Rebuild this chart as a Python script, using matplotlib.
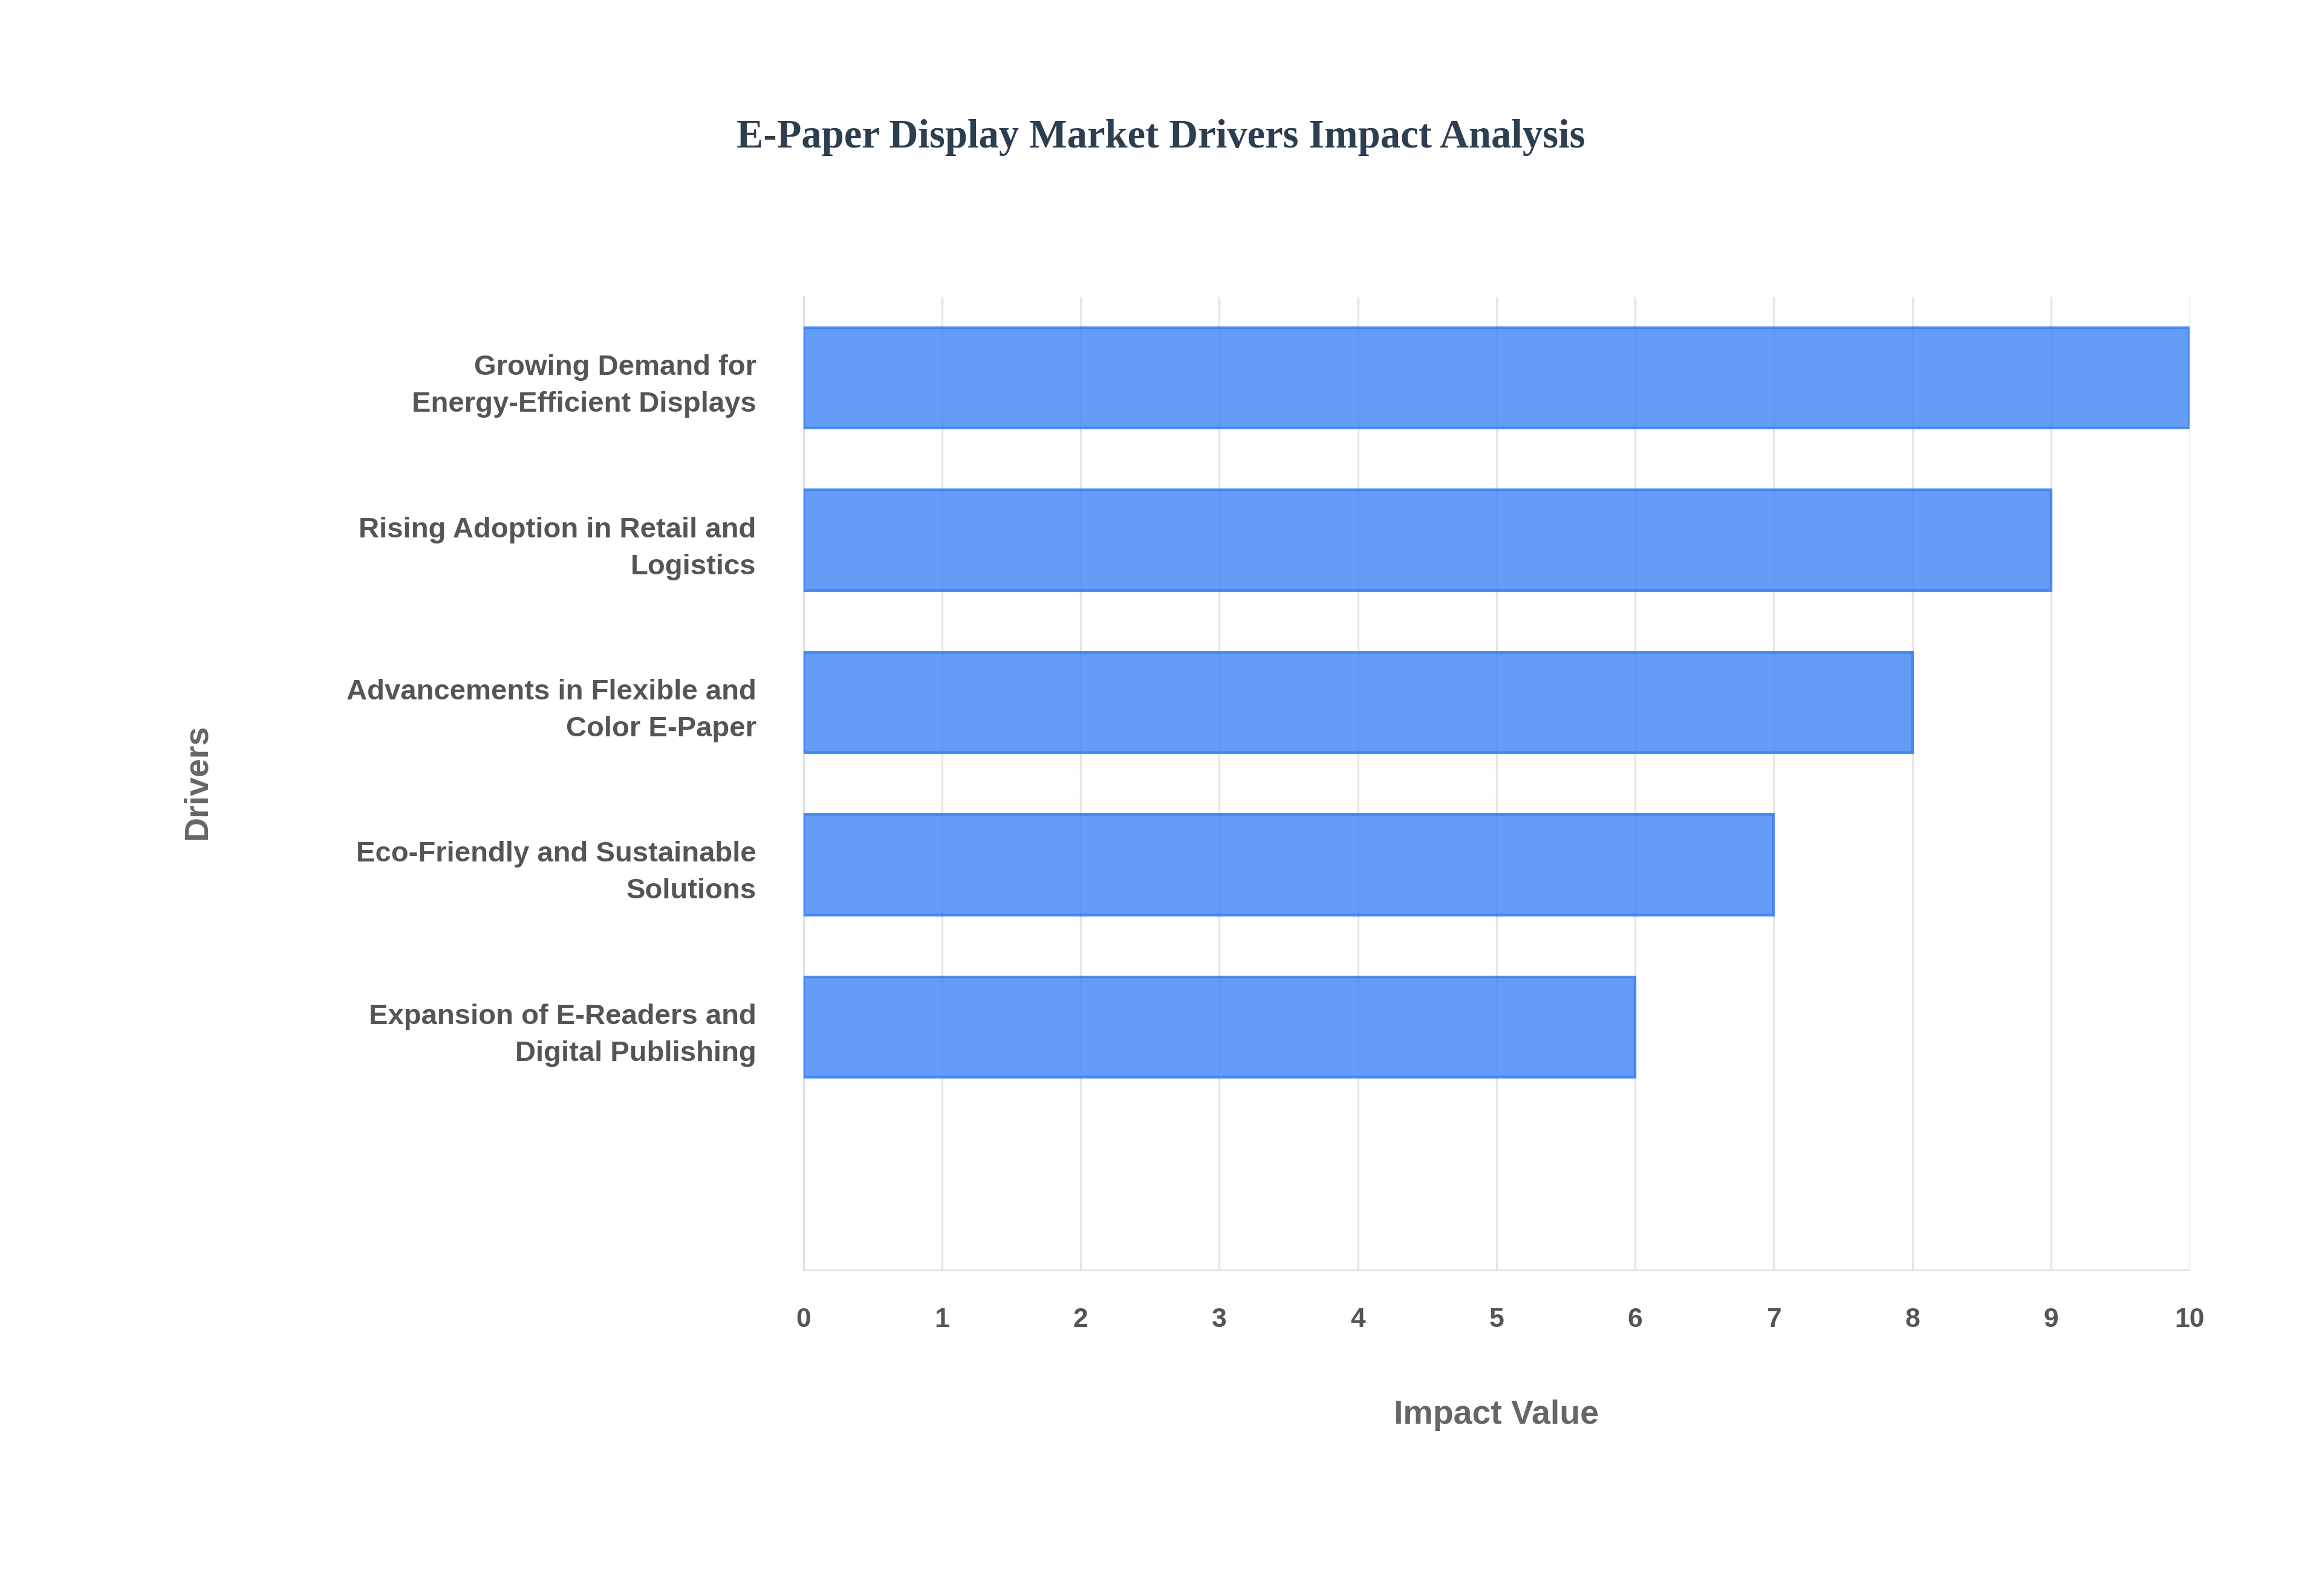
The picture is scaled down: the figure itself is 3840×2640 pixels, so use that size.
import matplotlib
matplotlib.use("Agg")
import matplotlib.pyplot as plt

drivers = ["Growing Demand for\nEnergy-Efficient Displays",
           "Rising Adoption in Retail and\nLogistics",
           "Advancements in Flexible and\nColor E-Paper",
           "Eco-Friendly and Sustainable\nSolutions",
           "Expansion of E-Readers and\nDigital Publishing"]
values = [10, 9, 8, 7, 6]
xticks = list(range(0, 11))

fig = plt.figure(figsize=(19.2, 13.2), dpi=200)
ax = fig.add_axes([0.346, 0.204, 0.597, 0.61])
pos = [4, 3, 2, 1, 0]
ax.barh(pos, values, height=0.62, color="#4f8ef7", alpha=0.88,
        edgecolor="#3b7ff0", linewidth=1.5, zorder=3)
ax.set_ylim(-1.5, 4.5)
ax.set_xlim(0, 10)
ax.set_yticks(pos)
ax.set_yticklabels(drivers, fontsize=17, fontweight="bold", color="#555555",
                   family="Liberation Sans", linespacing=1.5)
ax.set_xticks(xticks)
ax.set_xticklabels([str(x) for x in xticks], fontsize=16, fontweight="bold",
                   color="#555555", family="Liberation Sans")
ax.tick_params(axis="both", length=0, pad=22)
ax.tick_params(axis="y", pad=28)
ax.grid(axis="x", color="#e6e6e6", linewidth=1.2, zorder=0)
for s in ["top", "right"]:
    ax.spines[s].set_visible(False)
ax.spines["left"].set_color("#dddddd")
ax.spines["bottom"].set_color("#dddddd")
ax.set_xlabel("Impact Value", fontsize=20, fontweight="bold", color="#666666",
              family="Liberation Sans", labelpad=40)
fig.text(0.085, 0.51, "Drivers", rotation=90, fontsize=20, fontweight="bold",
         color="#666666", family="Liberation Sans", ha="center", va="center")
fig.text(0.5, 0.914, "E-Paper Display Market Drivers Impact Analysis", fontsize=24,
         fontweight="bold", color="#2c3e50", family="Liberation Serif",
         ha="center", va="center")
fig.savefig("out.png", dpi=200, facecolor="white")
